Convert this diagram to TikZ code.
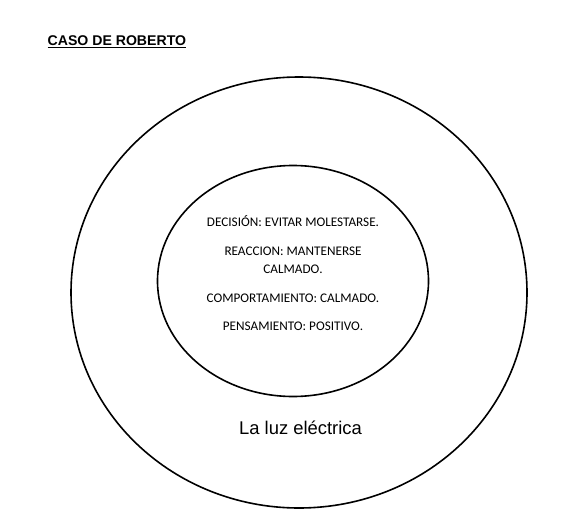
\documentclass[tikz,border=0pt]{standalone}
\usepackage{fontspec}
\setmainfont{Liberation Sans}
\newfontfamily\calib{Carlito}
\begin{document}
\begin{tikzpicture}[x=1pt,y=-1pt,
  ring/.style={draw=black,line width=1.6pt},
  inner/.style={font=\calib\fontsize{13.2}{15}\selectfont,inner sep=0pt,anchor=center}]
\useasboundingbox[fill=white] (0,0) rectangle (583,527);
\node[font=\bfseries\fontsize{14.1}{15}\selectfont,anchor=base west,inner sep=0pt] (title) at (47.5,45.7) {\underline{CASO DE ROBERTO}};
\draw[ring] (299,292.5) ellipse [x radius=228,y radius=215.5];
\draw[ring] (293,281) ellipse [x radius=135.5,y radius=115.5];
\node[inner] (d) at (293,221) {DECISIÓN: EVITAR MOLESTARSE.};
\node[inner] (r1) at (293,251) {REACCION: MANTENERSE};
\node[inner] (r2) at (293,269) {CALMADO.};
\node[inner] (c) at (293,298) {COMPORTAMIENTO: CALMADO.};
\node[inner] (p) at (293,326) {PENSAMIENTO: POSITIVO.};
\node[font=\fontsize{18.4}{20}\selectfont,inner sep=0pt] (luz) at (300.5,427.7) {La luz eléctrica};
\end{tikzpicture}
\end{document}
